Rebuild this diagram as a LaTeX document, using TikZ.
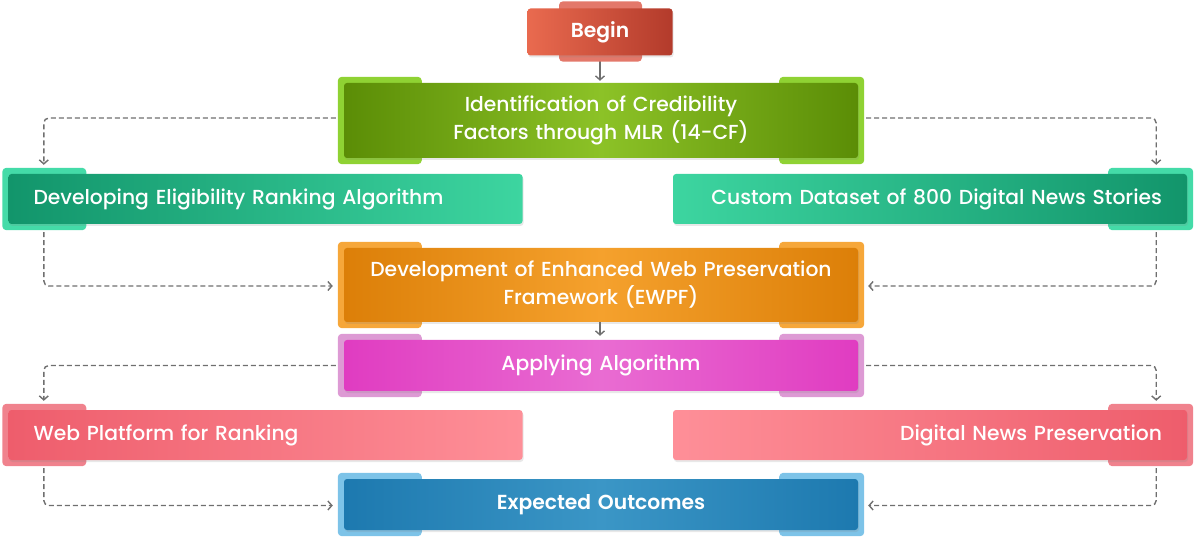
\documentclass[tikz,border=0pt]{standalone}
\usepackage{fontspec}
\setmainfont{Poppins Medium}[BoldFont={Poppins SemiBold}]
\usetikzlibrary{arrows.meta,backgrounds,calc,shadows}
\definecolor{begL}{HTML}{E96A4F}
\definecolor{begR}{HTML}{B33B2B}
\definecolor{begTab}{HTML}{E3786A}
\definecolor{grnE}{HTML}{5B8D06}
\definecolor{grnM}{HTML}{8CC227}
\definecolor{grnTab}{HTML}{8FD233}
\definecolor{tealD}{HTML}{12956B}
\definecolor{tealL}{HTML}{3DD5A0}
\definecolor{tealTab}{HTML}{44DBA8}
\definecolor{orgE}{HTML}{DC7F08}
\definecolor{orgM}{HTML}{F5A12D}
\definecolor{orgTab}{HTML}{F6A73A}
\definecolor{magE}{HTML}{E03CC1}
\definecolor{magM}{HTML}{E96CD2}
\definecolor{magTab}{HTML}{DD9AD4}
\definecolor{pinkD}{HTML}{EE5D6C}
\definecolor{pinkL}{HTML}{FE8F98}
\definecolor{pinkTab}{HTML}{F0828D}
\definecolor{blueE}{HTML}{1D79AF}
\definecolor{blueM}{HTML}{3B96C6}
\definecolor{blueTab}{HTML}{7DC3E8}
\definecolor{arrowgray}{HTML}{6F6F6F}
\tikzset{
  box/.style={rounded corners=3pt, text=white, inner ysep=0pt,
    font=\fontsize{20.3}{28}\selectfont,
    drop shadow={shadow xshift=1pt, shadow yshift=-2pt, opacity=0.18}},
  widebox/.style={box, text width=464pt, inner xsep=25pt, minimum height=50pt},
  centerbox/.style={box, text width=494pt, inner xsep=10pt, align=center},
  tabshape/.style={rounded corners=4pt},
  conn/.style={draw=arrowgray, line width=1.4pt, dash pattern=on 5pt off 3pt,
    rounded corners=5pt, -{Straight Barb[length=4pt,width=9pt,line width=1.4pt]}},
  flowarrow/.style={draw=arrowgray, line width=1.4pt,
    -{Straight Barb[length=4pt,width=9pt,line width=1.4pt]}}
}
\begin{document}
\begin{tikzpicture}[x=1pt,y=-1pt]
\useasboundingbox (0,0) rectangle (1200,537);

% main nodes
\node[box, minimum width=145pt, minimum height=47pt, inner xsep=0pt,
  left color=begL, right color=begR, font=\fontsize{20.3}{28}\selectfont\bfseries]
  (begin) at (600,32) {Begin};
\node[centerbox, minimum height=75pt,
  left color=grnE, right color=grnE, middle color=grnM]
  (ident) at (601,120.5) {Identification of Credibility\\Factors through MLR (14-CF)};
\node[widebox, align=left, left color=tealD, right color=tealL]
  (devel) at (265.5,199) {Developing Eligibility Ranking Algorithm};
\node[widebox, align=right, left color=tealL, right color=tealD]
  (custom) at (930,199) {Custom Dataset of 800 Digital News Stories};
\node[centerbox, minimum height=74pt,
  left color=orgE, right color=orgE, middle color=orgM]
  (ewpf) at (601,285) {Development of Enhanced Web Preservation\\Framework (EWPF)};
\node[centerbox, minimum height=51pt,
  left color=magE, right color=magE, middle color=magM]
  (apply) at (601,365.5) {Applying Algorithm};
\node[widebox, align=left, left color=pinkD, right color=pinkL]
  (web) at (265.5,435) {Web Platform for Ranking};
\node[widebox, align=right, left color=pinkL, right color=pinkD]
  (digital) at (930,435) {Digital News Preservation};
\node[centerbox, minimum height=51pt,
  left color=blueE, right color=blueE, middle color=blueM,
  font=\fontsize{20.3}{28}\selectfont\bfseries]
  (expect) at (601,504.5) {Expected Outcomes};

\begin{scope}[on background layer]
  % connectors
  \draw[flowarrow] (begin.south) -- ($(ident.north)+(-1pt,2pt)$);
  \draw[flowarrow] ($(ewpf.south)+(-1pt,0)$) -- ($(apply.north)+(-1pt,4pt)$);
  \draw[conn] ($(ident.west)+(0,2.5pt)$) -| ($(devel.north west)+(35.5pt,9pt)$);
  \draw[conn] ($(ident.east)+(0,2.5pt)$) -| ($(custom.north east)+(-31pt,9pt)$);
  \draw[conn] ($(devel.south west)+(35.5pt,0)$) |- ($(ewpf.west)+(-11pt,-1pt)$);
  \draw[conn] ($(custom.south east)+(-31pt,0)$) |- ($(ewpf.east)+(10pt,-1pt)$);
  \draw[conn] (apply.west) -| ($(web.north west)+(35.5pt,9pt)$);
  \draw[conn] (apply.east) -| ($(digital.north east)+(-31pt,9pt)$);
  \draw[conn] ($(web.south west)+(35.5pt,0)$) |- ($(expect.west)+(-11pt,-1pt)$);
  \draw[conn] ($(digital.south east)+(-31pt,0)$) |- ($(expect.east)+(10pt,-1pt)$);
  % tabs
  \fill[tabshape, begTab] ($(begin.south)+(-41pt,-6pt)$) rectangle ($(begin.north)+(42pt,7pt)$);
  \foreach \n/\c in {ident/grnTab, ewpf/orgTab, apply/magTab, expect/blueTab}{
    \fill[tabshape, \c] ($(\n.south west)+(-6pt,-6pt)$) rectangle ($(\n.north west)+(78pt,6pt)$);
    \fill[tabshape, \c] ($(\n.south east)+(6pt,-6pt)$) rectangle ($(\n.north east)+(-79pt,6pt)$);
  }
  \foreach \n/\c in {devel/tealTab, web/pinkTab}{
    \fill[tabshape, \c] ($(\n.south west)+(-6pt,-6pt)$) rectangle ($(\n.north west)+(78pt,6pt)$);
  }
  \foreach \n/\c in {custom/tealTab, digital/pinkTab}{
    \fill[tabshape, \c] ($(\n.south east)+(6pt,-6pt)$) rectangle ($(\n.north east)+(-79pt,6pt)$);
  }
\end{scope}
\end{tikzpicture}
\end{document}
